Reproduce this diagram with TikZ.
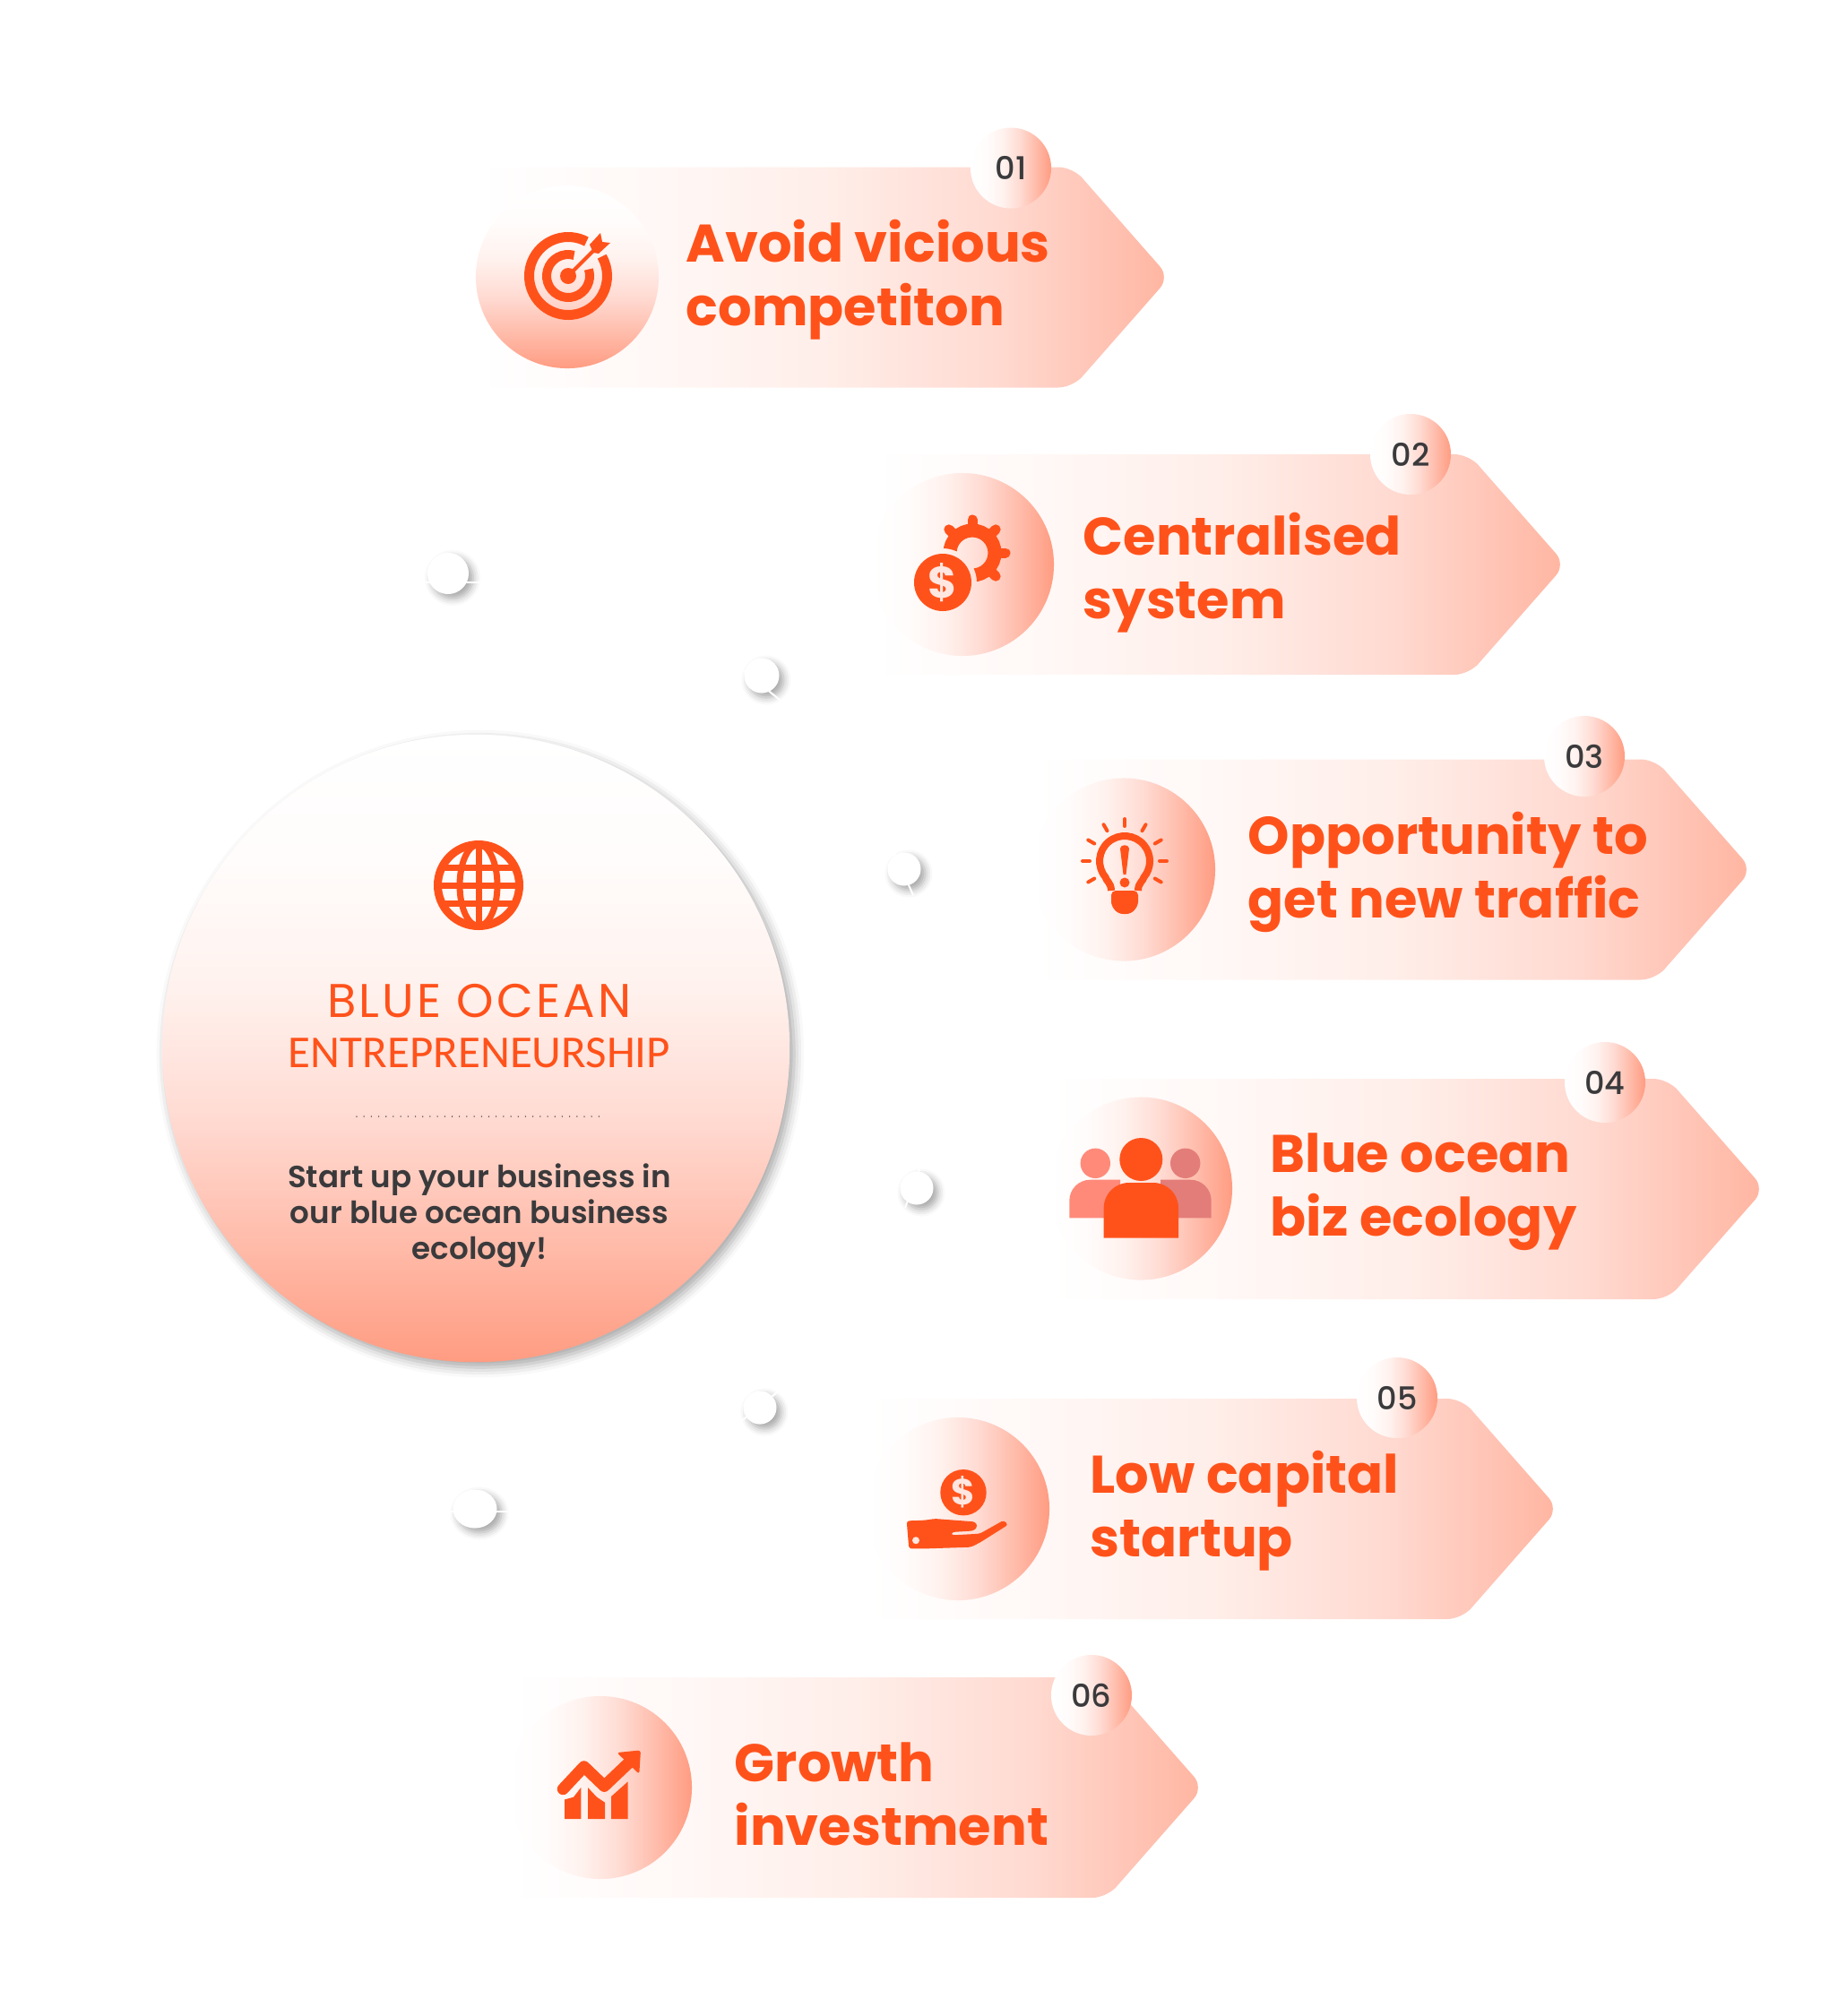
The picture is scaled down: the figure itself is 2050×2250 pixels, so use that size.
\documentclass[tikz,border=0pt]{standalone}
\usepackage{fontspec}
\setmainfont{Poppins}
\newfontfamily\titlefont{Poppins}[Weight=Bold,UprightFont=* Bold]
\newfontfamily\bodyfont{Poppins SemiBold}
\newfontfamily\badgefont{Poppins Medium}
\newfontfamily\headfont{Poppins}[LetterSpace=6]
\newfontfamily\subheadfont{Carlito}
\usetikzlibrary{shadows.blur, shapes.geometric}
\definecolor{accent}{HTML}{FF521B}
\definecolor{ink}{HTML}{3A3A3C}
\definecolor{discend}{HTML}{FF9C82}
\definecolor{discmid}{HTML}{FFE6E0}
\definecolor{fadea}{HTML}{FFFCFB}
\definecolor{fadeb}{HTML}{FFF2EE}
\definecolor{fadec}{HTML}{FFDCD4}
\definecolor{faded}{HTML}{FFBDAC}
\definecolor{cardb}{HTML}{FFF8F6}
\definecolor{cardc}{HTML}{FFEEE9}
\definecolor{cardd}{HTML}{FFDAD1}
\definecolor{carde}{HTML}{FFC4B5}
\definecolor{cardend}{HTML}{FFB5A0}
\definecolor{personl}{HTML}{FF8A7A}
\definecolor{personr}{HTML}{E37D79}
\pgfdeclarehorizontalshading{sidefade}{100bp}{color(0bp)=(white); color(25bp)=(white); color(35bp)=(fadea); color(45bp)=(fadeb); color(55bp)=(fadec); color(65bp)=(faded); color(75bp)=(discend); color(100bp)=(discend)}
\pgfdeclareverticalshading{downfade}{100bp}{color(0bp)=(discend); color(25bp)=(discend); color(35bp)=(faded); color(45bp)=(fadec); color(55bp)=(fadeb); color(65bp)=(fadea); color(75bp)=(white); color(100bp)=(white)}
\pgfdeclarehorizontalshading{cardfade}{100bp}{color(0bp)=(white); color(25bp)=(white); color(37.5bp)=(cardb); color(50bp)=(cardc); color(62.5bp)=(cardd); color(70bp)=(carde); color(75bp)=(cardend); color(100bp)=(cardend)}
% left edge, sharp tip, centre line of one card
\newcommand{\cardshape}[3]{
    \shade[cardfill] (#1,#3+123) -- (#2-108,#3+123) -- (#2,#3) -- (#2-108,#3-123) -- (#1,#3-123) -- cycle;
}

\begin{document}
\begin{tikzpicture}[x=0.01cm, y=0.01cm,
    cardfill/.style={rounded corners=0.16cm, shading=cardfade},
    sidedisc/.style={circle, inner sep=0pt, minimum size=2.04cm, shading=sidefade},
    downdisc/.style={circle, inner sep=0pt, minimum size=2.04cm, shading=downfade},
    badge/.style={circle, inner sep=0pt, minimum size=0.9cm, shading=sidefade, text=ink, font=\badgefont\fontsize{10}{12}\selectfont},
    title/.style={anchor=west, inner sep=0pt, align=left, text=accent, font=\titlefont\fontsize{16.8}{20.2}\selectfont},
    dot/.style={circle, inner sep=0pt, fill=white, blur shadow={shadow xshift=0.05cm, shadow yshift=-0.05cm, shadow blur radius=0.08cm, shadow opacity=35}},
    tick/.style={white, line width=0.02cm},
    ico/.style={fill=accent, draw=none},
    icoline/.style={draw=accent, fill=none},
    money/.style={inner sep=0pt, text=discmid, font=\titlefont\fontsize{13}{13}\selectfont}]
    \useasboundingbox (0,0) rectangle (2050,-2250);

    % Cards
    \cardshape{533}{1305}{-309.5}
    \cardshape{974}{1747}{-630}
    \cardshape{1154}{1955}{-970.5}
    \cardshape{1173}{1969}{-1327}
    \cardshape{969}{1739}{-1684}
    \cardshape{570}{1343}{-1995}

    % Discs
    \node[downdisc] (disc-1) at (633,-309) {};
    \node[sidedisc] (disc-2) at (1074,-630) {};
    \node[sidedisc] (disc-3) at (1254,-970.5) {};
    \node[sidedisc] (disc-4) at (1273,-1326.5) {};
    \node[sidedisc] (disc-5) at (1069,-1684) {};
    \node[sidedisc] (disc-6) at (670,-1995) {};

    % Badges
    \node[badge] (badge-1) at (1128,-187.5) {01};
    \node[badge] (badge-2) at (1574,-507) {02};
    \node[badge] (badge-3) at (1768,-844) {03};
    \node[badge] (badge-4) at (1791,-1208) {04};
    \node[badge] (badge-5) at (1559,-1560) {05};
    \node[badge] (badge-6) at (1218,-1892) {06};

    % Titles
    \node[title] (title-1) at (765,-312) {Avoid vicious\\competiton};
    \node[title] (title-2) at (1208,-639) {Centralised\\system};
    \node[title] (title-3) at (1392,-973) {Opportunity to\\get new traffic};
    \node[title] (title-4) at (1417,-1330) {Blue ocean\\biz ecology};
    \node[title] (title-5) at (1216,-1686) {Low capital\\startup};
    \node[title] (title-6) at (819,-2002) {Growth\\investment};

    % Centre circle
    \node[circle, inner sep=0pt, minimum size=7cm, shading=downfade,
        blur shadow={shadow xshift=0.05cm, shadow yshift=-0.06cm, shadow blur radius=0.11cm, shadow opacity=35}] (main) at (531,-1170) {};
    \node[text=accent, inner sep=0pt, font=\headfont\fontsize{15}{16}\selectfont] (head) at (535,-1117) {BLUE OCEAN};
    \node[text=accent, inner sep=0pt, font=\subheadfont\fontsize{14.5}{16}\selectfont] (subhead) at (535,-1175) {ENTREPRENEURSHIP};
    \coordinate (rule-a) at (398,-1246);
    \coordinate (rule-b) at (675,-1246);
    \draw[ink, line width=0.43pt, line cap=round, dash pattern=on 0pt off 2.33pt] (rule-a) -- (rule-b);
    \node[text=ink, align=center, inner sep=0pt, font=\bodyfont\fontsize{9.7}{11.4}\selectfont] (body) at (535,-1357) {Start up your business in\\our blue ocean business\\ecology!};

    % Small dots
    \node[dot, minimum size=0.46cm] (dot-1) at (500,-640) {};
    \node[dot, minimum size=0.39cm] (dot-2) at (850,-754) {};
    \node[dot, minimum size=0.37cm] (dot-3) at (1009,-970) {};
    \node[dot, minimum size=0.37cm] (dot-4) at (1023,-1326) {};
    \node[dot, minimum size=0.37cm] (dot-5) at (848,-1571) {};
    \node[dot, ellipse, minimum height=0.43cm, minimum width=0.49cm] (dot-6) at (530,-1684) {};

    % White ticks over the dot shadows
    \coordinate (tick-1a) at (474,-650);
    \coordinate (tick-1b) at (538,-650);
    \coordinate (tick-2a) at (828,-747);
    \coordinate (tick-2b) at (875,-785);
    \coordinate (tick-3a) at (997,-950);
    \coordinate (tick-3b) at (1019,-999);
    \coordinate (tick-4a) at (1027,-1302);
    \coordinate (tick-4b) at (1010,-1348);
    \coordinate (tick-5a) at (826,-1587);
    \coordinate (tick-5b) at (872,-1550);
    \coordinate (tick-6a) at (502,-1687);
    \coordinate (tick-6b) at (568,-1687);
    \draw[tick] (tick-1a) -- (tick-1b);
    \draw[tick] (tick-2a) -- (tick-2b);
    \draw[tick] (tick-3a) -- (tick-3b);
    \draw[tick] (tick-4a) -- (tick-4b);
    \draw[tick] (tick-5a) -- (tick-5b);
    \draw[tick] (tick-6a) -- (tick-6b);

    % Globe
    \begin{scope}[shift={(534,-988)}, line width=0.07cm]
        \draw[icoline, line width=0.09cm] (0,0) circle (45.5);
        \draw[icoline] (0,0) ellipse (21 and 45.5);
        \draw[icoline] (0,-45) -- (0,45);
        \draw[icoline] (-45,0) -- (45,0);
        \draw[icoline] (-40,20) -- (40,20);
        \draw[icoline] (-40,-20) -- (40,-20);
    \end{scope}

    % Target
    \begin{scope}[shift={(634,-308)}]
        \draw[icoline, line width=0.11cm] (62:43.5) arc (62:390:43.5);
        \draw[icoline, line width=0.1cm] (74:24) arc (74:378:24);
        \fill[ico] (0,0) circle (9);
        \draw[icoline, line width=0.04cm] (0,0) -- (30,30);
        \fill[ico] (36,48) -- (38,38) -- (47,37) -- (34,25) -- (28,26) -- (24,35) -- cycle;
    \end{scope}

    % Gear and coin
    \begin{scope}[even odd rule]
        \clip (980,-540) rectangle (1160,-720) (1052,-650) circle (38);
        \draw[icoline, line width=0.15cm] (1085,-617) circle (25);
        \foreach \a in {90,45,0,-45,135}
            \draw[icoline, line width=0.11cm, line cap=round] (1085,-617) ++(\a:30) -- ++(\a:7);
    \end{scope}
    \fill[ico] (1052,-650) circle (32);
    \node[money, font=\titlefont\fontsize{14}{14}\selectfont] (coin-2) at (1052,-650) {\$};

    % Bulb
    \begin{scope}[shift={(1255,-961)}]
        \draw[icoline, line width=0.08cm] (-15,-33) .. controls (-15,-24) and (-21,-22) .. (-21.4,-18) arc (220:-40:28) .. controls (21,-22) and (15,-24) .. (15,-33);
        \fill[ico, rounded corners=0.05cm] (-15,-33) -- (15,-33) -- (15,-50) -- (7,-59) -- (-7,-59) -- (-15,-50) -- cycle;
        \fill[ico] (-5,14) .. controls (-5,19) and (5,19) .. (5,14) -- (1.5,-15) -- (-1.5,-15) -- cycle;
        \fill[ico] (0,-24) circle (5.5);
        \foreach \a in {-30,0,30,60,90,120,150,180,210}
            \draw[icoline, line width=0.04cm, line cap=round] (\a:39) -- (\a:47);
    \end{scope}

    % People
    \fill[personl] (1222.3,-1298.3) circle (16.7);
    \fill[personr] (1322.7,-1298.3) circle (16.7);
    \fill[personl] (1193.3,-1359.3) -- (1193.3,-1340) arc (180:90:23.3) -- (1250,-1316.7) -- (1250,-1359.3) -- cycle;
    \fill[personr] (1295,-1359.3) -- (1295,-1316.7) -- (1328.4,-1316.7) arc (90:0:23.3) -- (1351.7,-1359.3) -- cycle;
    \fill[ico] (1273.3,-1294) circle (24);
    \fill[ico] (1231.7,-1381.7) -- (1231.7,-1348) arc (180:90:28) -- (1287,-1320) arc (90:0:28) -- (1315,-1381.7) -- cycle;

    % Hand and coin
    \begin{scope}[shift={(1075,-1665.7)}]
        \fill[ico] (0,0) circle (25.7);
        \fill[ico, rounded corners=0.03cm] (-63.3,-31.7) -- (-60.7,-62.7) -- (-43.3,-62.7) -- (8.3,-61) -- (18.3,-56) -- (50,-36) -- (45,-31) -- (18.3,-46) -- (-13.3,-47.7) -- (-13.3,-44.3) -- (11.7,-42.7) -- (16,-37.7) -- (13.3,-32.7) -- (-31.7,-29.3) -- (-43.3,-31) -- cycle;
        \fill[discmid] (-53,-53.5) circle (4);
    \end{scope}
    \node[money, font=\titlefont\fontsize{11.5}{12}\selectfont] (coin-5) at (1075,-1665.7) {\$};

    % Chart
    \begin{scope}[shift={(670,-1991.7)}]
        \draw[icoline, line width=0.13cm, line cap=round, line join=round] (-41.7,-5) -- (-18.3,20) -- (4.3,-1.7) -- (31.7,24.3);
        \fill[ico, rounded corners=0.03cm] (18.3,35.7) -- (45,38.3) -- (43.3,11.7) -- cycle;
        \fill[ico] (-40,-38.3) -- (-40,-16.7) -- (-30,-14) -- (-21.7,-3.3) -- (-21.7,-38.3) -- cycle;
        \fill[ico] (-14,-38.3) -- (-14,-3.3) -- (-4,-14) -- (5,-20) -- (5,-38.3) -- cycle;
        \fill[ico] (12,-38.3) -- (12,-13.3) -- (30.7,3.3) -- (30.7,-38.3) -- cycle;
    \end{scope}
\end{tikzpicture}
\end{document}
